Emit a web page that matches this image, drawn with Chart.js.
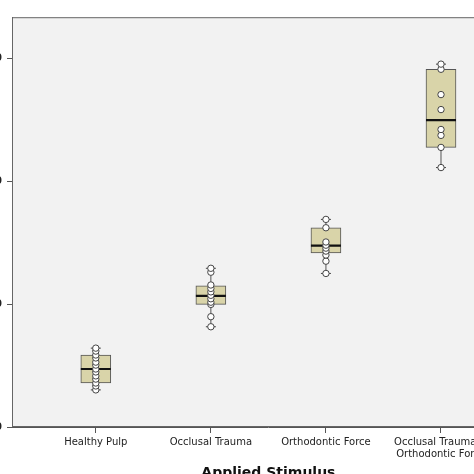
<!DOCTYPE html>
<html>
<head>
<meta charset="utf-8">
<script src="https://cdn.jsdelivr.net/npm/chart.js@4.4.1/dist/chart.umd.min.js"></script>
<style>
html,body{margin:0;padding:0;background:#fff;overflow:hidden;width:474px;height:474px;}
#wrap{position:absolute;left:-28px;top:0;}
</style>
</head>
<body>
<div id="wrap"><canvas id="c" width="570" height="500"></canvas></div>
<script>
// Data (y units assumed)
const categories = ['Healthy Pulp', 'Occlusal Trauma', 'Orthodontic Force', 'Occlusal Trauma + Orthodontic Force'];
const categoryLabels = [['Healthy Pulp'], ['Occlusal Trauma'], ['Orthodontic Force'], ['Occlusal Trauma +', 'Orthodontic Force']];
const whiskerLow  = [15.1, 40.8, 62.5, 105.6];
const q1          = [17.9, 49.9, 70.9, 113.8];
const median      = [23.6, 53.4, 73.8, 124.9];
const q3          = [29.3, 57.5, 81.1, 145.6];
const whiskerHigh = [32.1, 64.6, 84.5, 147.7];
const pointsHealthy   = [15.1, 16.7, 17.9, 19.5, 20.8, 22.4, 23.6, 25.2, 26.4, 28.1, 29.3, 30.9, 32.1];
const pointsOcclusal  = [40.8, 44.9, 49.9, 50.8, 52.2, 53.6, 55.0, 56.4, 57.8, 63.0, 64.6];
const pointsOrtho     = [62.5, 67.5, 70.0, 71.6, 72.8, 74.0, 75.3, 81.1, 84.5];
const pointsCombined  = [105.6, 113.8, 118.7, 121.1, 129.2, 135.3, 145.6, 147.7];
const yTicks = [0, 50, 100, 150];
const axisTitle = 'Applied Stimulus';

const groups = [pointsHealthy, pointsOcclusal, pointsOrtho, pointsCombined];
const boxData = categories.map((c, i) => ({x: i + 1, y: [q1[i], q3[i]]}));
const medianData = categories.map((c, i) => ({x: i + 1, y: median[i]}));
const capData = [];
const whiskerData = [];
categories.forEach((c, i) => {
  capData.push({x: i + 1, y: whiskerLow[i]}, {x: i + 1, y: whiskerHigh[i]});
  whiskerData.push({x: i + 1, y: whiskerLow[i]}, {x: i + 1, y: q1[i]}, {x: i + 1, y: null},
                   {x: i + 1, y: q3[i]}, {x: i + 1, y: whiskerHigh[i]}, {x: i + 1, y: null});
});
const pointData = [];
groups.forEach((g, i) => g.forEach(v => pointData.push({x: i + 1, y: v})));

const framePlugin = {
  id: 'frame',
  beforeDraw(chart) {
    const a = chart.chartArea, ctx = chart.ctx;
    ctx.save();
    ctx.fillStyle = '#f2f2f2';
    ctx.fillRect(a.left, a.top, a.right - a.left, a.bottom - a.top);
    ctx.restore();
  },
  beforeDatasetsDraw(chart) {
    const a = chart.chartArea, ctx = chart.ctx;
    ctx.save();
    ctx.strokeStyle = '#666';
    ctx.lineWidth = 1;
    ctx.strokeRect(a.left + 0.5, a.top + 0.5, a.right - a.left - 1, a.bottom - a.top - 1);
    ctx.restore();
  }
};

new Chart(document.getElementById('c'), {
  type: 'bar',
  data: {
    datasets: [
      {type: 'scatter', data: pointData, order: 0, pointRadius: 3.2, pointBackgroundColor: '#ffffff',
       pointBorderColor: '#444', pointBorderWidth: 1},
      {type: 'scatter', data: capData, order: 1, pointStyle: 'line', pointRadius: 5,
       pointBorderColor: '#444', pointBorderWidth: 1},
      {type: 'scatter', data: medianData, order: 2, pointStyle: 'line', pointRadius: 15,
       pointBorderColor: '#111', pointBorderWidth: 2.2},
      {type: 'line', data: whiskerData, order: 3, borderColor: '#555', borderWidth: 1,
       pointRadius: 0, spanGaps: false},
      {type: 'bar', data: boxData, order: 4, barThickness: 30, backgroundColor: '#d9d4a9',
       borderColor: '#555', borderWidth: 1, borderSkipped: false}
    ]
  },
  options: {
    responsive: false,
    animation: false,
    devicePixelRatio: 1,
    layout: {padding: {top: 17, left: 0, right: 10, bottom: 0}},
    plugins: {legend: {display: false}, tooltip: {enabled: false}},
    scales: {
      x: {
        type: 'linear',
        offset: false,
        min: 0.2717, max: 4.7283,
        afterBuildTicks(scale) { scale.ticks = categories.map((c, i) => ({value: i + 1})); },
        afterFit(scale) { scale.height = 73; },
        ticks: {
          autoSkip: false, maxRotation: 0, minRotation: 0, padding: 3, color: '#222',
          font: {family: 'DejaVu Sans', size: 10},
          callback(v) { return categoryLabels[Math.round(v) - 1]; }
        },
        grid: {offset: false, drawOnChartArea: false, drawTicks: true, tickLength: 6, color: '#555'},
        border: {display: true, color: '#555', width: 1},
        title: {display: true, text: axisTitle, color: '#111',
                font: {family: 'DejaVu Sans', size: 14, weight: 'bold'},
                padding: {top: 0, bottom: 18}}
      },
      y: {
        min: 0, max: 166.8,
        afterBuildTicks(scale) { scale.ticks = yTicks.map(v => ({value: v})); },
        afterFit(scale) { scale.width = 40; },
        ticks: {padding: 5, color: '#222', font: {family: 'DejaVu Sans', size: 10, weight: 'bold'}},
        grid: {drawOnChartArea: false, drawTicks: true, tickLength: 5, color: '#555'},
        border: {display: true, color: '#555', width: 1}
      }
    }
  },
  plugins: [framePlugin]
});
</script>
</body>
</html>
